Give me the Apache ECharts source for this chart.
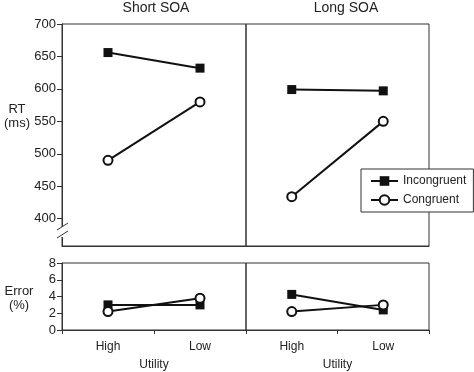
<!DOCTYPE html>
<html>
<head>
<meta charset="utf-8">
<script src="https://cdn.jsdelivr.net/npm/echarts@6/dist/echarts.min.js"></script>
<style>html,body{margin:0;padding:0;background:#fff}#c{width:474px;height:372px}</style>
</head>
<body>
<div id="c"></div>
<script>
const categories = ['High', 'Low'];
const panels = ['Short SOA', 'Long SOA'];
const rtTicks = [400, 450, 500, 550, 600, 650, 700];
const errTicks = [0, 2, 4, 6, 8];
// RT (ms)
const rtShortIncongruent = [656, 632];
const rtShortCongruent = [490, 580];
const rtLongIncongruent = [599, 597];
const rtLongCongruent = [434, 550];
// Error (%)
const errShortIncongruent = [3.0, 3.0];
const errShortCongruent = [2.2, 3.8];
const errLongIncongruent = [4.25, 2.4];
const errLongCongruent = [2.2, 3.0];

const FONT = 'Liberation Sans, Arial, sans-serif';
const TXT = '#222';
const LINE = '#111';

const chart = echarts.init(document.getElementById('c'), null, {renderer: 'canvas'});

const grids = [
  {left: 62, top: 24, width: 184, height: 222},
  {left: 246, top: 24, width: 183, height: 222},
  {left: 62, top: 263, width: 184, height: 68},
  {left: 246, top: 263, width: 183, height: 68}
].map(g => Object.assign({show: true, borderColor: '#333', borderWidth: 1, backgroundColor: 'transparent'}, g));

function xAxis(i, bottom) {
  return {
    type: 'category', gridIndex: i, data: categories, boundaryGap: true,
    axisLine: {show: true, lineStyle: {color: '#333', width: 1}},
    axisTick: {show: bottom, length: 4, lineStyle: {color: '#333'}},
    axisLabel: {show: bottom, margin: 11, fontSize: 12, color: TXT, fontFamily: FONT},
    name: bottom ? 'Utility' : '', nameLocation: 'middle', nameGap: 29,
    nameTextStyle: {fontSize: 12, color: TXT, fontFamily: FONT},
    splitLine: {show: false}
  };
}
function yAxis(i, rt, labels) {
  const base = rt ? {min: 358, max: 700} : {min: 0, max: 8, interval: 2};
  return Object.assign({
    type: 'value', gridIndex: i,
    axisLine: {show: labels, lineStyle: {color: '#333', width: 1}},
    axisTick: {show: labels, length: 5, lineStyle: {color: '#333'}, customValues: rt ? rtTicks : errTicks},
    axisLabel: {show: labels, margin: 6, fontSize: 13, color: TXT, fontFamily: FONT, customValues: rt ? rtTicks : errTicks},
    splitLine: {show: false}
  }, base);
}

function series(name, data, idx) {
  const inc = name === 'Incongruent';
  return {
    type: 'line', name: name, data: data, xAxisIndex: idx, yAxisIndex: idx,
    symbol: inc ? 'rect' : 'circle', symbolSize: 9,
    lineStyle: {color: LINE, width: 2},
    itemStyle: inc ? {color: LINE, borderColor: LINE, borderWidth: 0} : {color: '#fff', borderColor: LINE, borderWidth: 2},
    emphasis: {disabled: true}, animation: false, z: 3
  };
}

const option = {
  animation: false,
  textStyle: {fontFamily: FONT},
  title: [
    {text: panels[0], left: 151, top: -4, textAlign: 'center', textStyle: {fontSize: 14, fontWeight: 'normal', color: TXT, fontFamily: FONT}},
    {text: panels[1], left: 341, top: -4, textAlign: 'center', textStyle: {fontSize: 14, fontWeight: 'normal', color: TXT, fontFamily: FONT}},
    {text: 'RT\n(ms)', left: 12, top: 97, textAlign: 'center', textStyle: {fontSize: 13, fontWeight: 'normal', color: TXT, fontFamily: FONT, lineHeight: 14, align: 'center'}},
    {text: 'Error\n(%)', left: 14, top: 279, textAlign: 'center', textStyle: {fontSize: 13, fontWeight: 'normal', color: TXT, fontFamily: FONT, lineHeight: 14, align: 'center'}}
  ],
  legend: {
    data: ['Incongruent', 'Congruent'],
    orient: 'vertical', left: 361, top: 169,
    itemWidth: 27, itemHeight: 12, itemGap: 7,
    padding: [6, 7, 6, 9],
    backgroundColor: '#fff', borderColor: '#333', borderWidth: 1, borderRadius: 0,
    textStyle: {fontSize: 12, color: TXT, fontFamily: FONT},
    selectedMode: false, z: 10
  },
  grid: grids,
  xAxis: [xAxis(0, false), xAxis(1, false), xAxis(2, true), xAxis(3, true)],
  yAxis: [yAxis(0, true, true), yAxis(1, true, false), yAxis(2, false, true), yAxis(3, false, false)],
  series: [
    series('Incongruent', rtShortIncongruent, 0),
    series('Congruent', rtShortCongruent, 0),
    series('Incongruent', rtLongIncongruent, 1),
    series('Congruent', rtLongCongruent, 1),
    series('Incongruent', errShortIncongruent, 2),
    series('Congruent', errShortCongruent, 2),
    series('Incongruent', errLongIncongruent, 3),
    series('Congruent', errLongCongruent, 3)
  ],
  graphic: [
    {type: 'rect', shape: {x: 58, y: 227, width: 8, height: 10}, style: {fill: '#fff'}, z: 100},
    {type: 'line', shape: {x1: 57, y1: 230, x2: 68, y2: 223}, style: {stroke: '#333', lineWidth: 1}, z: 101},
    {type: 'line', shape: {x1: 57, y1: 238, x2: 68, y2: 231}, style: {stroke: '#333', lineWidth: 1}, z: 101}
  ]
};
chart.setOption(option);
</script>
</body>
</html>
